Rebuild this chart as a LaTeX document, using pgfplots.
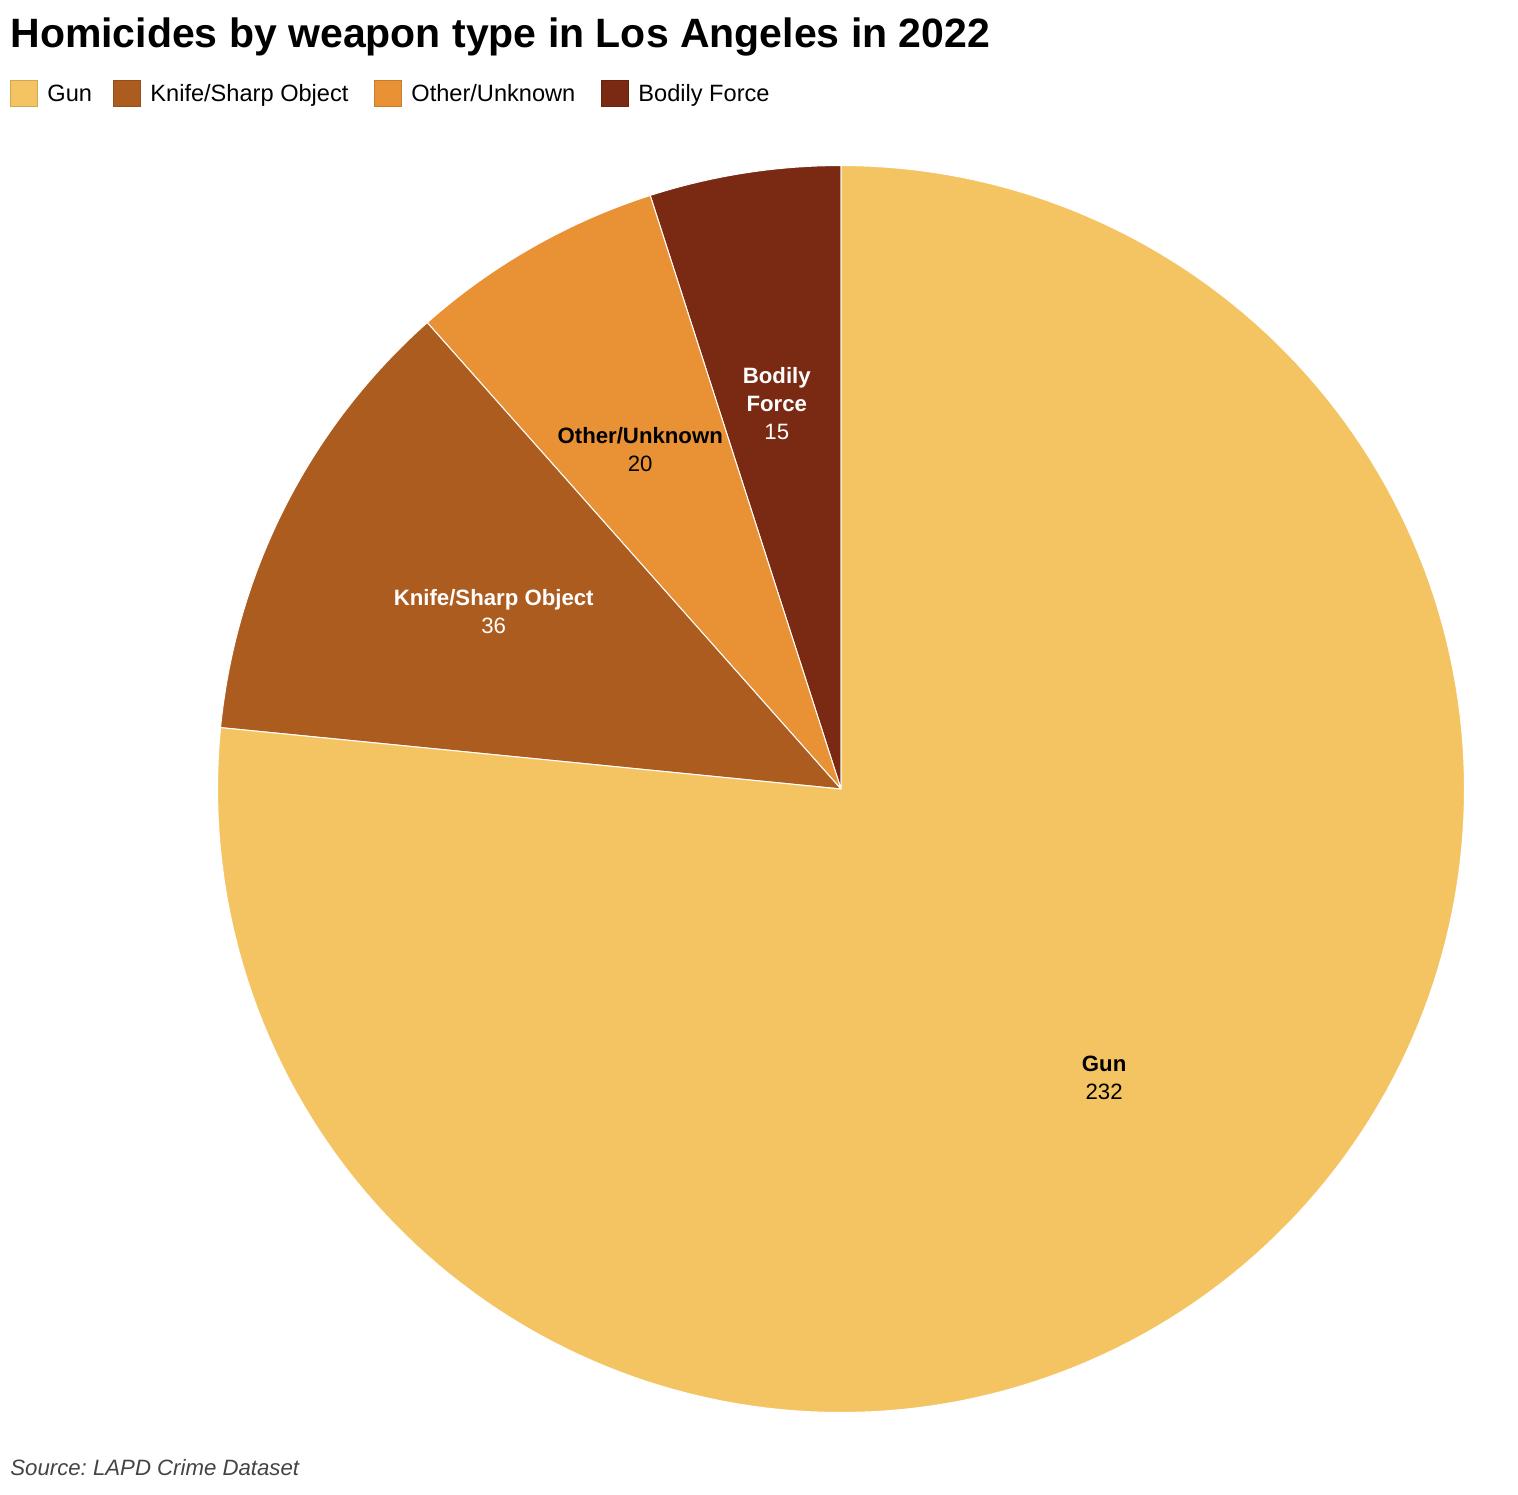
\documentclass[border=0pt]{standalone}
\usepackage{pgfplots}
\pgfplotsset{compat=1.18}
\usepackage{fontspec}
\setmainfont{Liberation Sans}
\frenchspacing
\definecolor{cgun}{HTML}{F5C462}
\definecolor{cknife}{HTML}{AD5C20}
\definecolor{cother}{HTML}{E99235}
\definecolor{cbody}{HTML}{7A2A12}
\definecolor{csrc}{HTML}{444444}
% data (homicides by weapon type)
\def\vGun{232}
\def\vKnife{36}
\def\vOther{20}
\def\vBody{15}
\pgfmathsetmacro\tot{\vGun+\vKnife+\vOther+\vBody}
\pgfmathsetmacro\aA{90}
\pgfmathsetmacro\aB{\aA+\vBody/\tot*360}
\pgfmathsetmacro\aC{\aB+\vOther/\tot*360}
\pgfmathsetmacro\aD{\aC+\vKnife/\tot*360}
\pgfmathsetmacro\aE{\aD+\vGun/\tot*360}
\begin{document}
\begin{tikzpicture}
\useasboundingbox (0,0) rectangle (759pt,-747pt);
\node[anchor=base west, inner sep=0pt, font=\bfseries\fontsize{20.5}{24}\selectfont] at (5pt,-23.5pt) {Homicides by weapon type in Los Angeles in 2022};
% legend
\begin{scope}[font=\fontsize{11.8}{14}\selectfont]
\filldraw[fill=cgun, draw=cgun!85!black, line width=0.4pt] (5pt,-40pt) rectangle (18.5pt,-53pt);
\node[anchor=base west, inner sep=0pt] at (23.5pt,-50.5pt) {Gun};
\filldraw[fill=cknife, draw=cknife!85!black, line width=0.4pt] (56.5pt,-40pt) rectangle (70pt,-53pt);
\node[anchor=base west, inner sep=0pt] at (75pt,-50.5pt) {Knife/Sharp Object};
\filldraw[fill=cother, draw=cother!85!black, line width=0.4pt] (187pt,-40pt) rectangle (200.5pt,-53pt);
\node[anchor=base west, inner sep=0pt] at (205.5pt,-50.5pt) {Other/Unknown};
\filldraw[fill=cbody, draw=cbody!85!black, line width=0.4pt] (300.5pt,-40pt) rectangle (314pt,-53pt);
\node[anchor=base west, inner sep=0pt] at (319pt,-50.5pt) {Bodily Force};
\end{scope}
\begin{axis}[hide axis, at={(420.5pt,-394.5pt)}, anchor=origin,
  x=311.75pt, y=311.75pt, xmin=-1, xmax=1, ymin=-1, ymax=1,
  clip=false, samples=80, variable=\t]
\addplot[fill=cbody, draw=white, line width=0.5pt, domain=\aA:\aB] ({cos(\t)},{sin(\t)}) -- (axis cs:0,0) -- cycle;
\addplot[fill=cother, draw=white, line width=0.5pt, domain=\aB:\aC] ({cos(\t)},{sin(\t)}) -- (axis cs:0,0) -- cycle;
\addplot[fill=cknife, draw=white, line width=0.5pt, domain=\aC:\aD] ({cos(\t)},{sin(\t)}) -- (axis cs:0,0) -- cycle;
\addplot[fill=cgun, draw=white, line width=0.5pt, domain=\aD:\aE, samples=200] ({cos(\t)},{sin(\t)}) -- (axis cs:0,0) -- cycle;
\node[align=center, font=\fontsize{11.1}{14}\selectfont, text=black] at (axis cs:0.422,-0.463) {\textbf{Gun}\\232};
\node[align=center, font=\fontsize{11.1}{14}\selectfont, text=white] at (axis cs:-0.557,0.284) {\textbf{Knife/Sharp Object}\\36};
\node[align=center, font=\fontsize{11.1}{14}\selectfont, text=black] at (axis cs:-0.322,0.544) {\textbf{Other/Unknown}\\20};
\node[align=center, font=\fontsize{11.1}{14}\selectfont, text=white] at (axis cs:-0.103,0.6175) {\textbf{Bodily}\\\textbf{Force}\\15};
\end{axis}
\node[anchor=base west, inner sep=0pt, text=csrc, font=\itshape\fontsize{11.1}{13}\selectfont] at (5pt,-737.5pt) {Source: LAPD Crime Dataset};
\end{tikzpicture}
\end{document}
